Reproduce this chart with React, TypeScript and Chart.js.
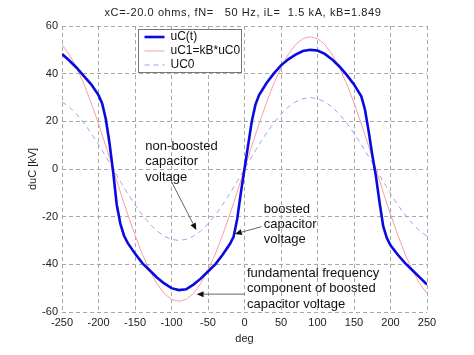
import React, { useEffect, useRef } from "react";
import { Chart, registerables } from "chart.js";

Chart.register(...registerables);

const TITLE = "xC=-20.0 ohms, fN=   50 Hz, iL=  1.5 kA, kB=1.849";
const X_LABEL = "deg";
const Y_LABEL = "duC [kV]";
const X_MIN = -250;
const X_MAX = 250;
const X_STEP = 50;
const Y_MIN = -60;
const Y_MAX = 60;
const Y_STEP = 20;

const SERIES_NAMES = ["uC(t)", "uC1=kB*uC0", "UC0"];

// boosted capacitor voltage uC(t)
const blueDeg = [
  -250, -240, -230, -220, -210, -200, -195, -190, -185, -180, -175, -170, -165, -160, -150, -140, -130, -120,
  -110, -100, -90, -80, -70, -60, -50, -40, -30, -20, -15, -10, -5, 0, 5, 10, 15, 20, 30, 40, 50, 60,
  70, 80, 90, 100, 110, 120, 130, 140, 150, 160, 165, 170, 175, 180, 185, 190, 195, 200, 210, 220, 230, 240, 250,
];
const blueVal = [
  48.3, 45.5, 42.5, 39, 35.5, 31, 27.5, 21, 11, -1, -15, -23, -28, -31, -35.5, -39.5, -42.5, -45.5,
  -48, -50, -50.8, -50.5, -48.5, -46, -43, -40, -36, -31.5, -28.5, -21, -10, 0, 10, 20, 27, 31, 36, 40, 43.5, 46,
  48, 49.5, 50, 49.7, 48.3, 46, 43, 39.5, 35.5, 30.5, 25, 16, 6, -3, -14, -24, -29, -32, -36, -39.5, -42.5, -45.5, -48.5,
];

// fundamental component sample angles
const fundDeg = [
  -250, -240, -230, -220, -210, -200, -190, -180, -170, -160, -150, -140, -130, -120, -110, -100, -90,
  -80, -70, -60, -50, -40, -30, -20, -10, 0, 10, 20, 30, 40, 50, 60, 70, 80, 90, 100, 110, 120,
  130, 140, 150, 160, 170, 180, 190, 200, 210, 220, 230, 240, 250,
];
const uC1Val = [
  52.2, 48.1, 42.5, 35.7, 27.7, 19.0, 9.7, 0, -9.7, -19.0, -27.7, -35.7, -42.5, -48.1, -52.2, -54.7, -55.5,
  -54.7, -52.2, -48.1, -42.5, -35.7, -27.7, -19.0, -9.7, 0, 9.7, 19.0, 27.7, 35.7, 42.5, 48.1, 52.2, 54.7, 55.5, 54.7, 52.2, 48.1,
  42.5, 35.7, 27.7, 19.0, 9.7, 0, -9.7, -19.0, -27.7, -35.7, -42.5, -48.1, -52.2,
];
const uC0Val = [
  28.2, 26.0, 23.0, 19.3, 15.0, 10.3, 5.2, 0, -5.2, -10.3, -15.0, -19.3, -23.0, -26.0, -28.2, -29.5, -30,
  -29.5, -28.2, -26.0, -23.0, -19.3, -15.0, -10.3, -5.2, 0, 5.2, 10.3, 15.0, 19.3, 23.0, 26.0, 28.2, 29.5, 30, 29.5, 28.2, 26.0,
  23.0, 19.3, 15.0, 10.3, 5.2, 0, -5.2, -10.3, -15.0, -19.3, -23.0, -26.0, -28.2,
];

// annotation texts anchored in data coordinates (deg, kV)
const NOTE_TEXTS = [
  ["non-boosted", "capacitor", "voltage"],
  ["boosted", "capacitor", "voltage"],
  ["fundamental frequency", "component of boosted", "capacitor voltage"],
];
const NOTE_ANCHORS = [
  [-135.8, 9.4],
  [26.4, -16.8],
  [3.4, -43.8],
];
// arrows: [fromDeg, fromKV, toDeg, toKV]
const ARROWS = [
  [-100, -5.3, -66, -25.6],
  [23.2, -24.2, -13.3, -27.3],
  [0.4, -52.5, -65.6, -52.5],
];

const FONT_FAMILY = '"Liberation Sans", Arial, Helvetica, sans-serif';

const notesPlugin = {
  id: "notesAndLegend",
  afterDatasetsDraw(chart: any) {
    const { ctx, chartArea, scales } = chart;
    const xs = scales.x;
    const ys = scales.y;
    ctx.save();
    // title
    ctx.font = `11px ${FONT_FAMILY}`;
    ctx.fillStyle = "#222";
    ctx.textAlign = "center";
    ctx.textBaseline = "middle";
    try {
      (ctx as any).letterSpacing = "0.6px";
    } catch (e) {}
    ctx.fillText(TITLE, (chartArea.left + chartArea.right) / 2 - 1.5, chartArea.top - 13);
    try {
      (ctx as any).letterSpacing = "0px";
    } catch (e) {}
    // annotation text
    ctx.font = `13px ${FONT_FAMILY}`;
    ctx.fillStyle = "#111";
    ctx.textBaseline = "middle";
    ctx.textAlign = "left";
    NOTE_TEXTS.forEach((lines, i) => {
      const px = xs.getPixelForValue(NOTE_ANCHORS[i][0]);
      const py = ys.getPixelForValue(NOTE_ANCHORS[i][1]);
      lines.forEach((t, j) => ctx.fillText(t, px, py + j * 15.3));
    });
    // arrows
    ARROWS.forEach((a) => {
      const x1 = xs.getPixelForValue(a[0]);
      const y1 = ys.getPixelForValue(a[1]);
      const x2 = xs.getPixelForValue(a[2]);
      const y2 = ys.getPixelForValue(a[3]);
      const ang = Math.atan2(y2 - y1, x2 - x1);
      const hl = 7;
      const hw = 3;
      ctx.strokeStyle = "#666";
      ctx.lineWidth = 1;
      ctx.setLineDash([]);
      ctx.beginPath();
      ctx.moveTo(x1, y1);
      ctx.lineTo(x2 - Math.cos(ang) * hl, y2 - Math.sin(ang) * hl);
      ctx.stroke();
      ctx.fillStyle = "#111";
      ctx.beginPath();
      ctx.moveTo(x2, y2);
      const bx = x2 - Math.cos(ang) * hl;
      const by = y2 - Math.sin(ang) * hl;
      ctx.lineTo(bx - Math.sin(ang) * hw, by + Math.cos(ang) * hw);
      ctx.lineTo(bx + Math.sin(ang) * hw, by - Math.cos(ang) * hw);
      ctx.closePath();
      ctx.fill();
    });
    // legend box
    const lx = chartArea.left + 76.5;
    const ly = chartArea.top + 3.5;
    const lw = 103;
    const lh = 43;
    ctx.fillStyle = "#fff";
    ctx.fillRect(lx, ly, lw, lh);
    ctx.strokeStyle = "#777";
    ctx.lineWidth = 1;
    ctx.setLineDash([]);
    ctx.strokeRect(lx, ly, lw, lh);
    ctx.font = `12px ${FONT_FAMILY}`;
    chart.data.datasets.forEach((ds: any, i: number) => {
      const cy = ly + 7.5 + i * 14;
      ctx.strokeStyle = ds.borderColor;
      ctx.lineWidth = ds.borderWidth;
      ctx.setLineDash(ds.borderDash || []);
      ctx.beginPath();
      ctx.moveTo(lx + 6, cy);
      ctx.lineTo(lx + 26, cy);
      ctx.stroke();
      ctx.setLineDash([]);
      ctx.fillStyle = "#111";
      ctx.fillText(ds.label, lx + 32, cy);
    });
    ctx.restore();
  },
};

export default function App() {
  const ref = useRef<HTMLCanvasElement>(null);
  useEffect(() => {
    const canvas = ref.current;
    if (!canvas) return;
    const tickFont = { family: FONT_FAMILY, size: 11 };
    const gridOpts = { color: "#a8a8a8", lineWidth: 1, drawTicks: false };
    const borderOpts = { display: false, dash: [4, 3] };
    const chart = new Chart(canvas, {
      type: "line",
      data: {
        datasets: [
          {
            label: SERIES_NAMES[0],
            data: blueDeg.map((d, i) => ({ x: d, y: blueVal[i] })),
            borderColor: "#0a0ae0",
            borderWidth: 2.6,
            pointRadius: 0,
            fill: false,
            tension: 0,
          },
          {
            label: SERIES_NAMES[1],
            data: fundDeg.map((d, i) => ({ x: d, y: uC1Val[i] })),
            borderColor: "#f5a0a0",
            borderWidth: 1,
            pointRadius: 0,
            fill: false,
            tension: 0,
          },
          {
            label: SERIES_NAMES[2],
            data: fundDeg.map((d, i) => ({ x: d, y: uC0Val[i] })),
            borderColor: "#a2a2ea",
            borderWidth: 1,
            borderDash: [5, 4],
            pointRadius: 0,
            fill: false,
            tension: 0,
          },
        ],
      },
      options: {
        responsive: false,
        animation: false,
        devicePixelRatio: 1,
        layout: { padding: { top: 26, right: 47, bottom: 0, left: 0 } },
        plugins: {
          legend: { display: false },
          tooltip: { enabled: false },
          title: { display: false },
        },
        scales: {
          x: {
            type: "linear",
            min: X_MIN,
            max: X_MAX,
            ticks: { stepSize: X_STEP, color: "#222", font: tickFont, padding: 4, maxRotation: 0, autoSkip: false },
            grid: gridOpts,
            border: borderOpts,
            title: { display: true, text: X_LABEL, color: "#222", font: tickFont, padding: { top: 0, bottom: 9 } },
            afterFit: (s: any) => {
              s.height = 43;
            },
          },
          y: {
            type: "linear",
            min: Y_MIN,
            max: Y_MAX,
            ticks: { stepSize: Y_STEP, color: "#222", font: tickFont, padding: 4 },
            grid: gridOpts,
            border: borderOpts,
            title: { display: true, text: Y_LABEL, color: "#222", font: tickFont, padding: { top: 26.4, bottom: 0 } },
            afterFit: (s: any) => {
              s.width = 62;
            },
          },
        },
      },
      plugins: [notesPlugin],
    } as any);
    return () => chart.destroy();
  }, []);
  return (
    <div style={{ position: "absolute", left: 0, top: 0, width: 474, height: 355, background: "#fff" }}>
      <canvas ref={ref} width={474} height={355} style={{ width: 474, height: 355, display: "block" }} />
    </div>
  );
}
